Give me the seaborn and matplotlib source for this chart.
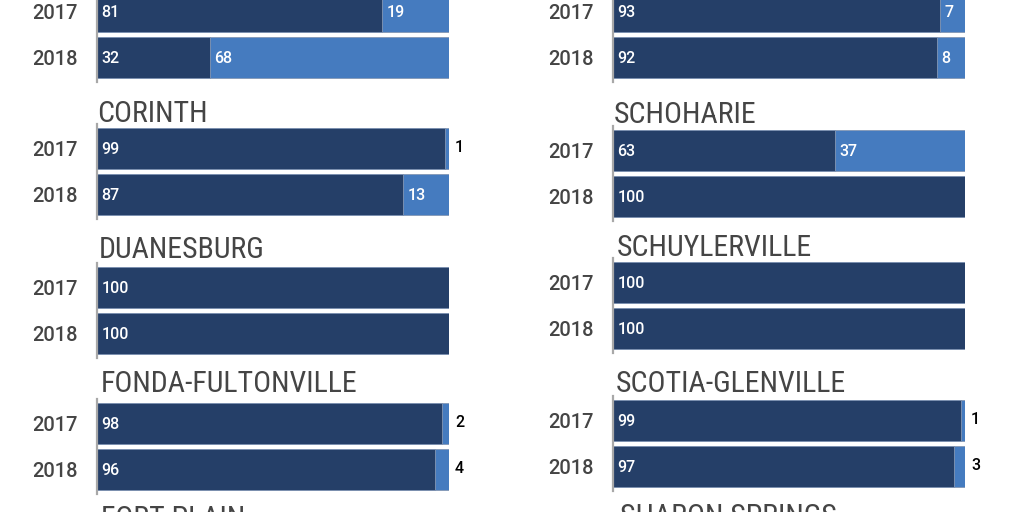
import matplotlib
matplotlib.use("Agg")
import matplotlib.pyplot as plt
from matplotlib import font_manager
import seaborn as sns
import pandas as pd

# ---------------- data ----------------
years = ["2017", "2018"]

left_titles = ["", "CORINTH", "DUANESBURG", "FONDA-FULTONVILLE"]
left_dark = [[81, 32], [99, 87], [100, 100], [98, 96]]
left_light = [[19, 68], [1, 13], [0, 0], [2, 4]]

right_titles = ["", "SCHOHARIE", "SCHUYLERVILLE", "SCOTIA-GLENVILLE"]
right_dark = [[93, 92], [63, 100], [100, 100], [99, 97]]
right_light = [[7, 8], [37, 0], [0, 0], [1, 3]]

bottom_titles = ["FORT PLAIN", "SHARON SPRINGS"]

# ---------------- style ----------------
DARK = "#253f68"
LIGHT = "#457bbf"
EDGE = "#8497b5"
GREY_TXT = "#454545"

sns.set_theme(style="white")
names = {f.name for f in font_manager.fontManager.ttflist}
base_font = "Roboto" if "Roboto" in names else "DejaVu Sans"
plt.rcParams["font.family"] = [base_font, "DejaVu Sans"]

if "Liberation Sans Narrow" in names:
    title_fp = dict(family="Liberation Sans Narrow")
elif "Roboto Condensed" in names:
    title_fp = dict(family="Roboto Condensed")
else:
    title_fp = dict(family="DejaVu Sans", stretch="condensed")

W, H = 1024, 512
fig = plt.figure(figsize=(W / 100, H / 100), dpi=100)

PITCH = 46.0
BAR_H = 41.0
PAD = 4.0
VAL_FS = 11.5


def px_axes(x0, y_top, w, h):
    return fig.add_axes([x0 / W, 1 - (y_top + h) / H, w / W, h / H])


def panel(x0, bar_top, title, title_x, title_base, dark, light):
    ax = px_axes(x0, bar_top - PAD, 352, PITCH + BAR_H + 2 * PAD)
    df = pd.DataFrame({"year": years, "dark": dark,
                       "total": [d + l for d, l in zip(dark, light)]})
    sns.barplot(data=df, y="year", x="total", orient="h", color=LIGHT,
                saturation=1, width=BAR_H / PITCH, edgecolor=EDGE,
                linewidth=0.6, ax=ax)
    sns.barplot(data=df, y="year", x="dark", orient="h", color=DARK,
                saturation=1, width=BAR_H / PITCH, edgecolor=EDGE,
                linewidth=0.6, ax=ax)
    ext = (BAR_H / 2 + PAD) / PITCH
    ax.set_ylim(1 + ext, -ext)
    ax.set_xlim(0, 100)
    ax.set_xlabel("")
    ax.set_ylabel("")
    ax.set_xticks([])
    for s in ["top", "right", "bottom"]:
        ax.spines[s].set_visible(False)
    ax.spines["left"].set_color("#a8a8a8")
    ax.spines["left"].set_linewidth(1.6)
    ax.tick_params(axis="y", length=0, pad=14, labelsize=14.5,
                   labelcolor=GREY_TXT)
    for lab in ax.get_yticklabels():
        lab.set_fontweight("medium")
    ax.patch.set_alpha(0)
    for i, (d, l) in enumerate(zip(dark, light)):
        if d > 0:
            ax.text(1.2, i + 0.02, str(d), color="white", fontsize=VAL_FS,
                    fontweight="medium", va="center", ha="left")
        if l > 0:
            if l >= 5:
                ax.text(d + 1.2, i + 0.02, str(l), color="white",
                        fontsize=VAL_FS, fontweight="medium", va="center",
                        ha="left")
            else:
                ax.text(d + l + 1.7, i - 0.02, str(l), color="black",
                        fontsize=VAL_FS, fontweight="medium", va="center",
                        ha="left")
    if title:
        fig.text(title_x / W, 1 - title_base / H, title, color=GREY_TXT,
                 fontsize=21.5, va="baseline", ha="left", **title_fp)
    return ax


left_tops = [-9, 128, 267, 403]
left_tx = [97, 97, 99, 101]
left_tb = [0, 122, 258, 392]
for i in range(4):
    panel(97, left_tops[i], left_titles[i], left_tx[i], left_tb[i],
          left_dark[i], left_light[i])

right_tops = [-9, 130, 262, 400]
right_tx = [613, 614, 617, 616]
right_tb = [0, 123, 256, 392]
for i in range(4):
    panel(613, right_tops[i], right_titles[i], right_tx[i], right_tb[i],
          right_dark[i], right_light[i])

fig.text(101 / W, 1 - 527 / H, bottom_titles[0], color=GREY_TXT,
         fontsize=21.5, va="baseline", ha="left", **title_fp)
fig.text(620 / W, 1 - 525 / H, bottom_titles[1], color=GREY_TXT,
         fontsize=21.5, va="baseline", ha="left", **title_fp)

fig.savefig("out.png", dpi=100)
